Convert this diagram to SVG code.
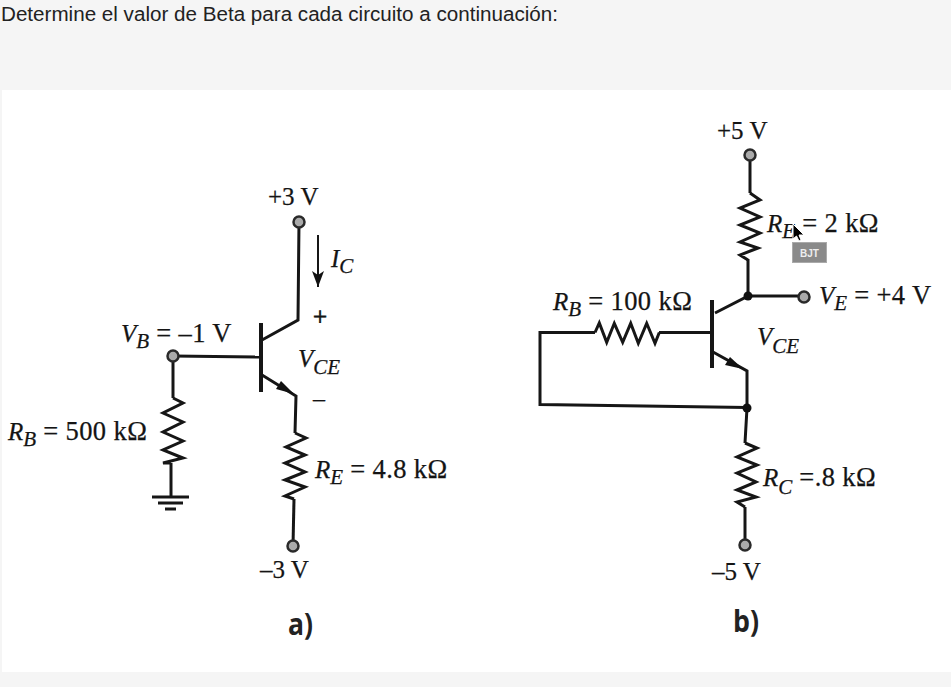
<svg xmlns="http://www.w3.org/2000/svg" width="951" height="687" viewBox="0 0 951 687">
<style>
.w{fill:none;stroke:#161616;stroke-width:3;stroke-linejoin:miter;stroke-linecap:butt}
.t{fill:#aaa;stroke:#2a2a2a;stroke-width:2.5}
.j{fill:#111}
text{fill:#141414;stroke:#141414;stroke-width:.25;font-family:"Liberation Serif","Times New Roman",serif;font-size:25px}
.i{font-style:italic}
.s{font-style:italic;font-size:21px}
.m{font-size:26.5px;letter-spacing:.4px}
.h{font-family:"Liberation Sans",Arial,sans-serif;font-size:20px;fill:#222;stroke:none}
.l{font-family:"Open Sans","Liberation Sans",sans-serif;font-weight:700;font-size:31px;fill:#222;stroke:none}
</style>
<defs>
<marker id="ah" markerUnits="userSpaceOnUse" markerWidth="20" markerHeight="14" refX="16" refY="7" orient="auto"><path d="M0 1L16 7L0 13L4 7Z" fill="#111"/></marker>
</defs>
<rect width="951" height="687" fill="#f5f5f5"/>
<rect x="2" y="90" width="949" height="582" fill="#fff"/>
<text class="h" x="1" y="21" textLength="557" lengthAdjust="spacingAndGlyphs">Determine el valor de Beta para cada circuito a continuación:</text>

<g id="connectors">
<path class="w" d="M299 222L298 320L262 340"/>
<path class="w" d="M173 356L261 357"/>
<path class="w" d="M262 375L296 396L295 433"/>
<path class="w" d="M173 357V398"/>
<path class="w" d="M171 463V497"/>
<path class="w" d="M294 499L293 546"/>
<path class="w" style="stroke-width:2" d="M318 235V287" marker-end="url(#ah)"/>
<path class="w" d="M750 155V193"/>
<path class="w" d="M748 259V296L715 313"/>
<path class="w" d="M748 296H804"/>
<path class="w" d="M595 332.500H540V404.500L747 407.500"/>
<path class="w" d="M659 332.500H712"/>
<path class="w" d="M713 352L747 371V408L745 443"/>
<path class="w" d="M745 507V545"/>
</g>

<g id="transistor-a">
<path class="w" style="stroke-width:4" d="M261 323V392"/>
<path class="j" d="M281 381L294 394L276 389Z"/>
</g>
<g id="transistor-b">
<path class="w" style="stroke-width:4" d="M712 300V368"/>
<path class="j" d="M730 357L743 369L725 365Z"/>
</g>

<g id="terminal-plus3">
<circle class="t" cx="299" cy="222" r="5.500"/>
<text x="268" y="205">+3 V</text>
</g>
<g id="terminal-vb">
<circle class="t" cx="173" cy="356" r="5.500"/>
<text x="121" y="342"><tspan class="i">V</tspan><tspan class="s" dy="6">B</tspan><tspan class="m" dy="-6"> = –1 V</tspan></text>
</g>
<g id="label-ic">
<text class="i" x="331" y="267">I<tspan class="s" dy="6">C</tspan></text>
</g>
<g id="label-vce-a">
<text x="313" y="325" style="stroke-width:.7">+</text>
<text class="i" x="298" y="367">V<tspan class="s" dy="7">CE</tspan></text>
<text x="313" y="406" style="font-size:24px">–</text>
</g>
<g id="resistor-rb-a">
<path class="w" d="M173 398L183 403L163 413L183 422L163 432L183 441L163 450L183 458L163 463L171 463"/>
<text x="8" y="440"><tspan class="i">R</tspan><tspan class="s" dy="6">B</tspan><tspan class="m" dy="-6"> = 500 kΩ</tspan></text>
</g>
<g id="ground-a">
<path class="w" d="M152 497H189M158 503H183M165 509H176"/>
</g>
<g id="resistor-re-a">
<path class="w" d="M295 433L306 438L286 447L305 455L285 463L305 472L285 480L305 487L285 496L294 499"/>
<text x="315" y="478"><tspan class="i">R</tspan><tspan class="s" dy="6">E</tspan><tspan class="m" dy="-6"> = 4.8 kΩ</tspan></text>
</g>
<g id="terminal-minus3">
<circle class="t" cx="293" cy="546" r="5.500"/>
<text x="260" y="578">–3 V</text>
</g>
<text class="l" x="288" y="635" textLength="25" lengthAdjust="spacingAndGlyphs">a)</text>

<g id="terminal-plus5">
<circle class="t" cx="750" cy="155" r="5.500"/>
<text x="717" y="139">+5 V</text>
</g>
<g id="resistor-re-b">
<path class="w" d="M750 193L760 200L740 208L760 217L740 225L760 233L740 242L758 248L740 255L748 260"/>
<text x="767" y="232"><tspan class="i">R</tspan><tspan class="s" dy="6">E</tspan><tspan class="m" dy="-6"> = 2 kΩ</tspan></text>
</g>
<g id="junction-top"><circle class="j" cx="748" cy="296" r="4.500"/></g>
<g id="terminal-ve">
<circle class="t" cx="804" cy="297" r="5.500"/>
<text x="819" y="304"><tspan class="i">V</tspan><tspan class="s" dy="6">E</tspan><tspan class="m" dy="-6"> = +4 V</tspan></text>
</g>
<g id="resistor-rb-b">
<path class="w" d="M595 332.500L599.300 323L606.700 342.300L614.300 323.300L622.700 342.300L630.700 323.300L638.300 343.300L646.700 323.300L655 343.300L659.300 332.500"/>
<text x="553" y="310"><tspan class="i">R</tspan><tspan class="s" dy="6">B</tspan><tspan class="m" dy="-6"> = 100 kΩ</tspan></text>
</g>
<text class="i" x="757" y="345">V<tspan class="s" dy="8">CE</tspan></text>
<g id="junction-bottom"><circle class="j" cx="747" cy="408" r="4.500"/></g>
<g id="resistor-rc-b">
<path class="w" d="M745 443L757 448L737 457L757 465L737 473L756 482L737 490L756 497L737 502L745 507"/>
<text x="763" y="486"><tspan class="i">R</tspan><tspan class="s" dy="8">C</tspan><tspan class="m" dy="-8"> =.8 kΩ</tspan></text>
</g>
<g id="terminal-minus5">
<circle class="t" cx="745" cy="545" r="5.500"/>
<text x="712" y="580">–5 V</text>
</g>
<text class="l" x="733" y="632" textLength="26" lengthAdjust="spacingAndGlyphs">b)</text>

<g id="tooltip">
<path d="M793 224V239L796.500 236L799 241L801 240L799 235L804 235Z" fill="#000" stroke="#fff" stroke-width="1"/>
<rect x="792.500" y="242.500" width="34" height="20" fill="#8a8a8a" stroke="#aaa"/>
<text x="809.500" y="256.500" text-anchor="middle" style="font-family:'Liberation Sans',sans-serif;font-size:10px;font-weight:700;fill:#eee;stroke:none">BJT</text>
</g>
</svg>
